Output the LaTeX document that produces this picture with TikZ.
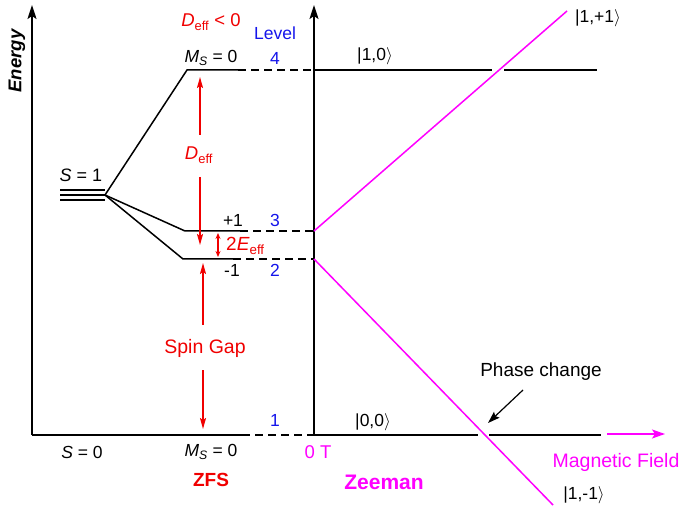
\documentclass[tikz,border=0pt]{standalone}
\usepackage{fontspec}
\setmainfont{Liberation Sans}
\usetikzlibrary{arrows.meta}
\definecolor{zmag}{RGB}{255,0,255}
\definecolor{lvblue}{RGB}{20,20,235}
\definecolor{zred}{RGB}{240,0,0}

\tikzset{
  lvl/.style={line width=1.5pt},
  dashlvl/.style={line width=1.5pt, dash pattern=on 8pt off 5pt},
  axis/.style={line width=1.8pt, -{Stealth[length=14pt,width=9pt,inset=3pt]}},
  gaparrow/.style={zred, line width=1.5pt, -{Stealth[length=11pt,width=6pt,inset=2pt]}},
  zee/.style={zmag, line width=1.5pt},
  lab/.style={inner sep=0pt, font=\fontsize{17.5}{19}\selectfont},
  num/.style={lab, text=lvblue},
}

\begin{document}
\begin{tikzpicture}[x=1pt,y=-1pt]
\useasboundingbox (0,0) rectangle (685,510);
% axes
\coordinate (o1) at (32,435);
\coordinate (o2) at (314,435);
\draw [axis] (o1) -- (32,5);
\draw [axis] (o2) -- (314,5);
\node [lab, rotate=90, font=\fontsize{18.5}{20}\selectfont\bfseries\itshape] (energy) at (17,61) {Energy};
% S = 1 term and zero-field splitting
\foreach \y in {190,195,200}
	\draw [lvl, line width=1.2pt] (60,\y) -- (105,\y);
\coordinate (s1) at (105,195);
\coordinate (m4) at (187,70);
\coordinate (m3) at (185,231);
\coordinate (m2) at (183,259);
\coordinate (z4) at (314,70);
\coordinate (z3) at (314,231);
\coordinate (z2) at (314,259);
\draw [lvl] (s1) -- (m4) -- (238,70);
\draw [lvl] (s1) -- (m3) -- (240,231);
\draw [lvl] (s1) -- (m2) -- (233,259);
\draw [lvl] (o1) -- (242,435);
\draw [dashlvl] (238,70) -- (z4);
\draw [dashlvl] (240,231) -- (z3);
\draw [dashlvl] (233,259) -- (z2);
\draw [dashlvl] (242,435) -- (o2);
% Zeeman part
\draw [lvl] (z4) -- (492,70) (504,70) -- (597,70);
\draw [lvl] (o2) -- (478,435) (489,435) -- (601,435);
\draw [zee] (z3) -- (567,11);
\draw [zee] (z2) -- (553,505);
\draw [zee, -{Stealth[length=13pt,width=9pt,inset=3pt]}] (607,434) -- (665,434);
% level labels
\node [lab, font=\fontsize{18}{20}\selectfont] (s1lab) at (81,175) {\textit{S} = 1};
\node [lab] (s0lab) at (82,452) {\textit{S} = 0};
\node [lab] (ms4) at (211,58) {\textit{M}\textsubscript{\textit{S}} = 0};
\node [lab] (ms1) at (211,452) {\textit{M}\textsubscript{\textit{S}} = 0};
\node [lab] (p1) at (233,220) {+1};
\node [lab] (n1) at (232,270) {-1};
\node [num] (level) at (275,33) {Level};
\node [num] at (275,58) {4};
\node [num] at (275,220) {3};
\node [num] at (275,270) {2};
\node [num] at (275,420) {1};
% kets
\node [lab] at (375,56) {|1,0$\rangle$};
\node [lab] at (598,18) {|1,+1$\rangle$};
\node [lab] at (373,422) {|0,0$\rangle$};
\node [lab] at (584,495) {|1,-1$\rangle$};
% red labels and arrows
\node [lab, text=zred, font=\fontsize{18.5}{20}\selectfont] (dneg) at (211,22) {\textit{D}\textsubscript{eff} < 0};
\node [lab, text=zred, font=\fontsize{18.5}{20}\selectfont] (deff) at (199,155) {\textit{D}\textsubscript{eff}};
\draw [gaparrow] (200,135) -- (200,77);
\draw [gaparrow] (200,177) -- (200,245);
\draw [zred, line width=1.2pt, {Stealth[length=6pt,width=5pt]}-{Stealth[length=6pt,width=5pt]}] (218,233) -- (218,257);
\node [lab, text=zred, anchor=west, font=\fontsize{19}{21}\selectfont] (eeff) at (226,246) {2\textit{E}\textsubscript{eff}};
\node [lab, text=zred, font=\fontsize{19.5}{21}\selectfont] (gap) at (205,348) {Spin Gap};
\draw [gaparrow] (203,325) -- (203,263);
\draw [gaparrow] (203,370) -- (203,429);
\node [lab, text=zred, font=\fontsize{19}{21}\selectfont\bfseries] (zfs) at (211,480) {ZFS};
% field labels
\node [lab, text=zmag, font=\fontsize{18.5}{20}\selectfont] (zero) at (318,452) {0 T};
\node [lab, text=zmag, font=\fontsize{21}{23}\selectfont\bfseries] (zeeman) at (384,482) {Zeeman};
\node [lab, text=zmag, font=\fontsize{19.5}{21}\selectfont] (field) at (616,462) {Magnetic Field};
\node [lab, font=\fontsize{19}{21}\selectfont] (phase) at (541,372) {Phase change};
\coordinate (cross) at (488,423);
\draw [line width=1.2pt, -{Stealth[length=12pt,width=8pt,inset=2pt]}] (523,390) -- (cross);
\end{tikzpicture}
\end{document}
